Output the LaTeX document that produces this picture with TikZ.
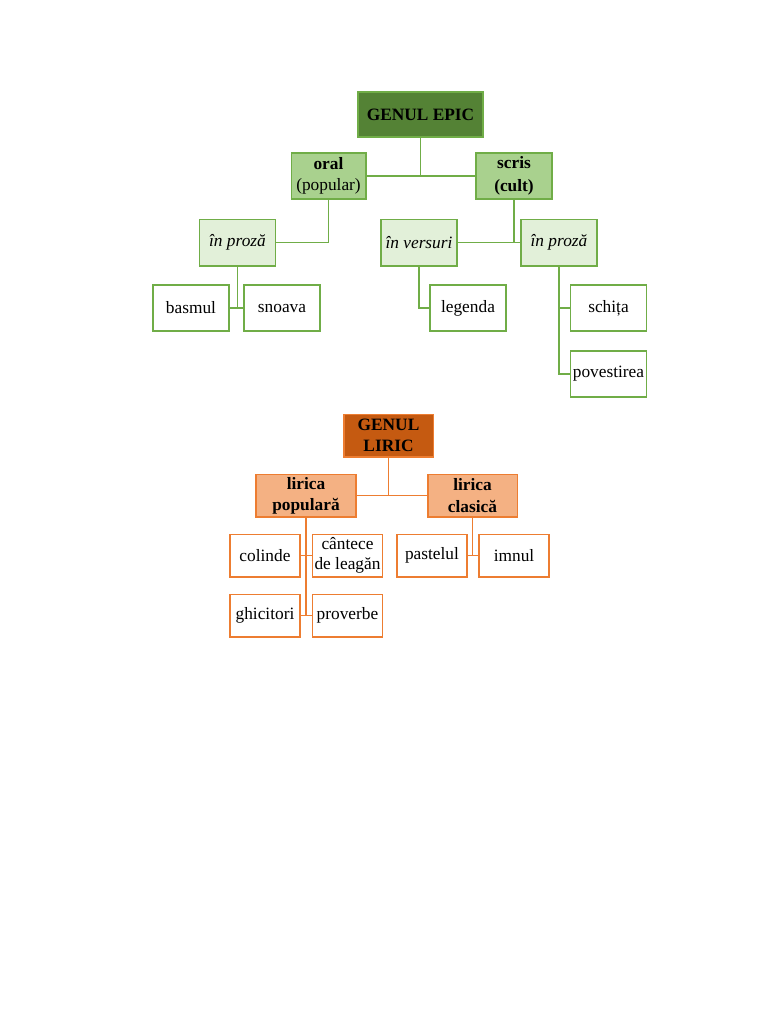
\documentclass[tikz,border=0pt]{standalone}
\usepackage{color}
\usepackage{tikz}
\usepackage{fontspec}
\setmainfont{Liberation Serif}
\definecolor{epicdark}{HTML}{548235}
\definecolor{epicmid}{HTML}{A9D18E}
\definecolor{epiclight}{HTML}{E2F0D9}
\definecolor{epicline}{HTML}{70AD47}
\definecolor{liricdark}{HTML}{C55A11}
\definecolor{liricmid}{HTML}{F4B183}
\definecolor{liricline}{HTML}{ED7D31}

\begin{document}
\begin{tikzpicture}[x=0.75pt,y=-0.75pt,
    box/.style={draw,line width=1pt,inner sep=0pt,align=center,font=\fontsize{13}{15}\selectfont},
    epicbox/.style={box,draw=epicline,minimum width=57pt,minimum height=34.5pt},
    liricbox/.style={box,draw=liricline,minimum width=52.5pt,minimum height=32pt},
    epicwire/.style={draw=epicline,line width=1pt},
    liricwire/.style={draw=liricline,line width=1pt}]
            \useasboundingbox (0,0) rectangle (768,1024);
            % genul epic
            \node [epicbox,fill=epicdark,minimum width=93.75pt,minimum height=33.75pt,font=\fontsize{13}{15}\selectfont\bfseries] (epic) at (420.5,114.5) {GENUL EPIC};
            \node [epicbox,fill=epicmid,minimum width=56pt,font=\fontsize{13}{16}\selectfont] (oral) at (328.5,176) {\textbf{oral}\\(popular)};
            \node [epicbox,fill=epicmid,font=\fontsize{13}{17}\selectfont] (scris) at (514,176) {\textbf{scris}\\\textbf{(cult)}};
            \node [epicbox,fill=epiclight,minimum height=35pt,font=\fontsize{13}{15}\selectfont\itshape] (prozaA) at (237.5,242.5) {în proză};
            \node [epicbox,fill=epiclight,minimum height=35pt,font=\fontsize{13}{15}\selectfont\itshape] (versuri) at (419,242.5) {în versuri};
            \node [epicbox,fill=epiclight,minimum height=35pt,font=\fontsize{13}{15}\selectfont\itshape] (prozaB) at (559,242.5) {în proză};
            \node [epicbox] (basmul) at (191,308) {basmul};
            \node [epicbox] (snoava) at (282,308) {snoava};
            \node [epicbox] (legenda) at (468,308) {legenda};
            \node [epicbox] (schita) at (608.5,308) {schița};
            \node [epicbox] (povestirea) at (608.5,374) {povestirea};
            \draw [epicwire] (epic.south) |- (oral.east);
            \draw [epicwire] (epic.south) |- (scris.west);
            \draw [epicwire] (oral.south) |- (prozaA.east);
            \draw [epicwire] (scris.south) |- (versuri.east);
            \draw [epicwire] (scris.south) |- (prozaB.west);
            \draw [epicwire] (prozaA.south) |- (basmul.east);
            \draw [epicwire] (prozaA.south) |- (snoava.west);
            \draw [epicwire] (versuri.south) |- (legenda.west);
            \draw [epicwire] (prozaB.south) |- (schita.west);
            \draw [epicwire] (prozaB.south) |- (povestirea.west);
            % genul liric
            \node [liricbox,fill=liricdark,minimum width=67pt,font=\fontsize{13}{16}\selectfont\bfseries] (liric) at (388.5,435.5) {GENUL\\LIRIC};
            \node [liricbox,fill=liricmid,minimum width=75pt,font=\fontsize{13}{16}\selectfont\bfseries] (populara) at (306,495.5) {lirica\\populară};
            \node [liricbox,fill=liricmid,minimum width=67pt,font=\fontsize{13}{16}\selectfont\bfseries] (clasica) at (472.5,495.5) {lirica\\clasică};
            \node [liricbox] (colinde) at (265,555.5) {colinde};
            \node [liricbox,font=\fontsize{13}{15}\selectfont] (cantece) at (347.5,555.5) {cântece\\de leagăn};
            \node [liricbox] (ghicitori) at (265,615.5) {ghicitori};
            \node [liricbox] (proverbe) at (347.5,615.5) {proverbe};
            \node [liricbox] (pastelul) at (432,555.5) {pastelul};
            \node [liricbox] (imnul) at (514,555.5) {imnul};
            \draw [liricwire] (liric.south) |- (populara.east);
            \draw [liricwire] (liric.south) |- (clasica.west);
            \draw [liricwire] (populara.south) |- (colinde.east);
            \draw [liricwire] (populara.south) |- (cantece.west);
            \draw [liricwire] (populara.south) |- (ghicitori.east);
            \draw [liricwire] (populara.south) |- (proverbe.west);
            \draw [liricwire] (clasica.south) |- (pastelul.east);
            \draw [liricwire] (clasica.south) |- (imnul.west);
\end{tikzpicture}
\end{document}
